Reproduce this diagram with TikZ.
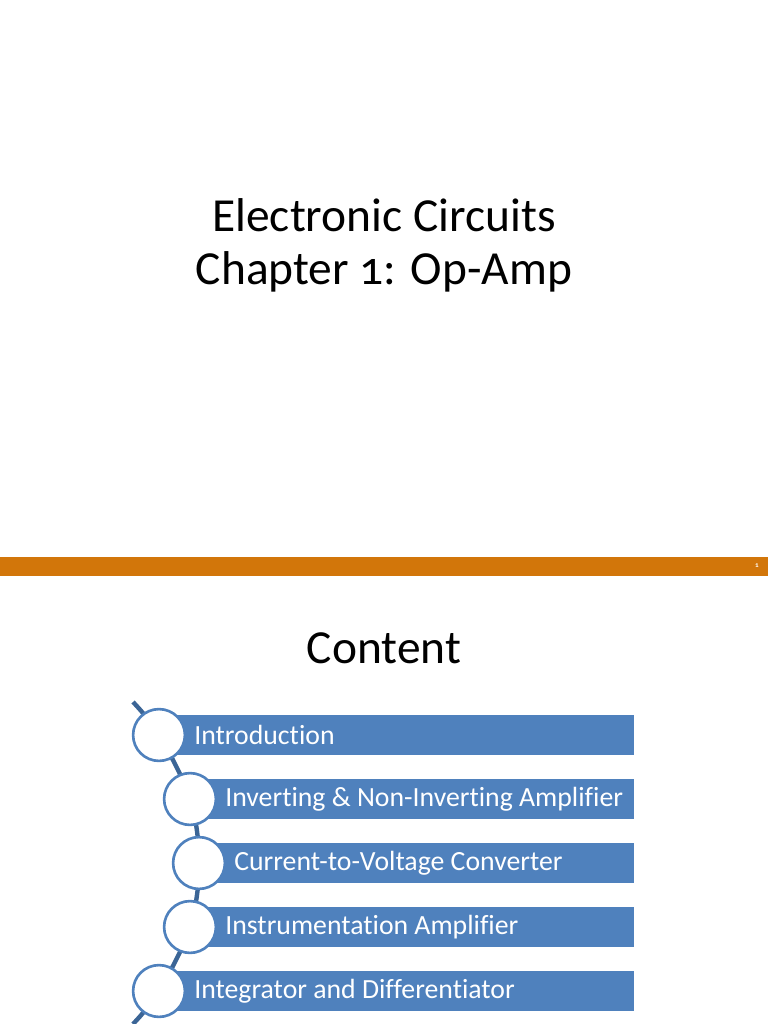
\documentclass[tikz,border=0pt]{standalone}
\usepackage{fontspec}
\setmainfont{Carlito}[Ligatures=NoCommon, Numbers=OldStyle]
\usetikzlibrary{positioning}
\definecolor{barblue}{HTML}{4F81BD}
\definecolor{lineblue}{HTML}{3B6596}
\definecolor{slideorange}{HTML}{D2760A}
\tikzset{
  dot/.style={circle, draw=barblue, line width=1.5pt, fill=white, minimum size=52*0.567pt, inner sep=0pt}
}
\begin{document}
\begin{tikzpicture}[x=0.02cm,y=-0.02cm]
  \useasboundingbox (0,0) rectangle (768,1024);
  % first slide
  \node[align=center, font=\fontsize{27}{30}\selectfont] (title) at (384,245)
    {Electronic Circuits\\Chapter 1: Op-Amp};
  \fill[slideorange] (0,557) rectangle (768,576);
  \node[text=white, font=\fontsize{4}{5}\selectfont\bfseries] (pnum) at (757,566) {1};

  % second slide
  \node[font=\fontsize{27}{30}\selectfont] (content) at (384,648) {Content};

  % spine
  \draw[lineblue, line width=2.5pt] plot[smooth, tension=0.6] coordinates
    {(133,702) (159,735) (190,799) (199,863) (190,927) (159,991) (133,1024)};

  % items
  \foreach \y/\cx/\txt [count=\i] in {
      735/159/Introduction,
      799/190/Inverting \& Non-Inverting Amplifier,
      863/199/Current-to-Voltage Converter,
      927/190/Instrumentation Amplifier,
      991/159/Integrator and Differentiator} {
    \fill[barblue] (\cx,\y-20) rectangle (634,\y+20);
    \node[text=white, anchor=west, inner sep=0pt, font=\fontsize{15.8}{18}\selectfont] (item\i) at (\cx+35,\y) {\txt};
    \node[dot] (dot\i) at (\cx,\y) {};
  }
\end{tikzpicture}
\end{document}
